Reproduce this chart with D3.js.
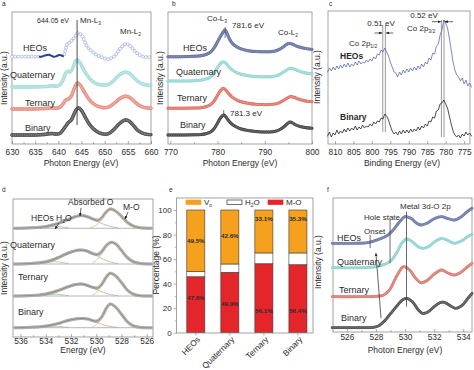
<!DOCTYPE html>
<html>
<head>
<meta charset="utf-8">
<script src="https://cdn.jsdelivr.net/npm/d3@7"></script>
<style>
  body { margin: 0; background: #fff; }
  svg text { font-family: "Liberation Sans", Arial, sans-serif; fill: #2b2b2b; }
</style>
</head>
<body>
<svg id="fig" width="474" height="370"></svg>
<script>
// ---------------- data ----------------
const samples = ['HEOs', 'Quaternary', 'Ternary', 'Binary'];

// a: Mn L-edge XAS  [photon energy (eV), intensity]
const mnHEOsLeft = [[630,0],[632,0],[634,0],[636,0]];
const mnHEOsDark = [[636,0],[636.5,0.3],[637,1],[637.5,1.8],[638,2],[638.5,1],[639,0],[639.5,0.3],[640,1.5],[640.5,1.5],[641,0.5]];
const mnHEOsRight = [[641.3,2.5],[641.9,13.3],[642.5,14],[643,16.7],[643.7,20.7],[644.2,24],[645.1,21.7],[645.7,15],[646.2,10],[646.8,7],[647.3,5],[648,2.5],[648.6,1],[649.1,0],[649.8,-1.5],[650.6,-2.6],[651.3,-1.8],[652,0],[652.6,3],[653.1,6.7],[653.8,10.5],[654.6,13.3],[655.3,12],[656,8.3],[656.7,4.5],[657.5,1.7],[658.3,0],[659.2,-0.5],[660,-0.5]];
const mnQuaternary = [[630,0],[634,0],[636,0.3],[637.5,0.5],[638.5,1.3],[639.5,0.8],[640.3,2],[641,7],[641.6,14],[642.1,15.7],[642.6,15],[643.2,20],[643.8,26.5],[644.1,27],[644.7,24],[645.5,17],[646.4,10.5],[647.4,5.5],[648.4,3],[649.4,2],[650.3,2],[651,3],[652,6.5],[653,11.5],[654,14.3],[654.6,14.7],[655.4,13.5],[656.3,9.5],[657.2,5.5],[658.2,3],[659.2,1.8],[660,1.5]];
const mnTernary = [[630,0],[634,0],[636,0.3],[637.5,0.6],[638.5,1.2],[639.5,0.8],[640.3,1.5],[641,5],[641.6,9],[642.2,10],[642.8,13],[643.4,20],[643.9,25],[644.2,26],[644.8,23.5],[645.6,17],[646.5,10.5],[647.5,5.5],[648.5,2.8],[649.5,1.5],[650.3,1.4],[651,2.3],[652,5.5],[653,9.5],[654,12.2],[654.6,12.7],[655.4,11.5],[656.3,8],[657.2,4.5],[658.2,2],[659.2,1],[660,0.8]];
const mnBinary = [[630,0],[634,0],[636,0.3],[637.5,0.8],[638.5,1.5],[639.5,1],[640.3,1.5],[641,5],[641.6,9],[642.2,12.5],[642.8,15],[643.4,21],[644,26],[644.4,27],[645,24.5],[645.8,18],[646.6,11.5],[647.5,6.5],[648.5,3],[649.5,1.2],[650.3,0.8],[651,1.8],[652,5.5],[653,10.5],[654,14.2],[654.6,15],[655.4,13.5],[656.3,9],[657.2,4.5],[658.2,1.8],[659.2,0.6],[660,0.4]];
const mnOffsets = [87.3, 57, 35, 9];
const mnTicks = [630, 635, 640, 645, 650, 655, 660];
const mnMinor = [632.5, 637.5, 642.5, 647.5, 652.5, 657.5];
const mnL3 = 644.05;

// b: Co L-edge XAS
const coHEOs = [[769.5,0],[772,0],[775,0.4],[776.5,1],[777.5,2.2],[778.5,4.5],[779.3,9],[780,15],[780.7,21],[781.3,25.5],[781.6,26.7],[781.9,24.5],[782.5,18],[783.2,13],[784,10],[785,7.8],[786.5,6],[788,5.2],[789.5,5],[791,5],[792,5.5],[793,7],[794,10],[794.8,12.8],[795.3,13.3],[795.9,12.5],[796.6,10.8],[797.5,9.5],[798.5,8.3],[800,7.3]];
const coQuaternary = [[769.5,0],[772,0],[775,0.3],[776.5,0.8],[777.5,1.8],[778.5,4],[779.3,8],[780,13.5],[780.7,18],[781.2,19.3],[781.7,18],[782.3,14.5],[783,11.5],[784,8.5],[785,6.8],[786.5,5.3],[788,4.5],[789.5,4.2],[791,4.2],[792,4.8],[793,6.2],[794,9],[795,12],[795.5,12.7],[796.2,12],[797,10.3],[798,8.8],[799,7.7],[800,7]];
const coTernary = [[769.5,0],[772,0],[775,0.2],[776.5,0.6],[777.5,1.5],[778.5,3.5],[779.3,7.5],[780,13],[780.7,18],[781.2,20],[781.7,18.5],[782.3,15],[783,11.5],[784,8.5],[785,6.5],[786.5,5],[788,4],[789.5,3.7],[791,3.7],[792,4.2],[793,5.5],[794,8],[795,10.8],[795.5,11.7],[796.2,11],[797,9.5],[798,8],[799,7],[800,6.7]];
const coBinary = [[769.5,0],[772,0],[775,0.2],[776.5,0.5],[777.5,1.2],[778.5,3],[779.3,6.5],[780,12],[780.6,17],[781.1,19.5],[781.3,20],[781.7,18.5],[782.3,14.5],[783,11],[784,8],[785,6],[786.5,4.5],[788,3.5],[789.5,3],[791,3],[792,3.5],[793,5],[794,8],[794.8,11.5],[795.3,13],[795.9,12],[796.6,10],[797.5,8.5],[798.5,7.5],[800,6.7]];
const coOffsets = [87.3, 63, 35.7, 9];
const coTicks = [770, 780, 790, 800];
const coMinor = [775, 785, 795];
const coPeakHEOs = 781.6;
const coPeakBinary = 781.3;

// c: Co 2p XPS (raw counts above each baseline)
const xpsEnergy = [812,811.5,811,810.5,810,809.5,809,808.5,808,807.5,807,806.5,806,805.5,805,804.5,804,803.5,803,802.5,802,801.5,801,800.5,800,799.5,799,798.5,798,797.5,797,796.5,796,795.5,795,794.5,794,793.5,793,792.5,792,791.5,791,790.5,790,789.5,789,788.5,788,787.5,787,786.5,786,785.5,785,784.5,784,783.5,783,782.5,782,781.5,781,780.5,780,779.5,779,778.5,778,777.5,777,776.5,776,775.5,775,774.5,774,773.5,773];
const xpsHEOs = [12,16,13,17,14,18,15,19,16,20,17,21,17,20,18,22,19,23,20,22,21,24,22,25,23,27,25,30,29,34,32,36,32,28,22,17,12,11,7,12,9,14,11,15,12,16,13,17,14,18,15,20,17,22,20,26,24,31,30,38,40,49,54,64,61,56,46,34,22,14,9,7,3,6,0,4,-2,1,-3];
const xpsBinary = [2,6,1,5,3,8,4,7,5,9,6,10,7,10,8,12,8,11,9,13,10,12,11,14,12,16,14,17,16,20,19,24,22,18,12,7,4,6,3,7,4,8,5,8,5,9,6,9,7,11,8,12,10,14,12,17,16,21,20,27,28,34,35,38,34,30,22,14,7,3,1,3,0,4,2,6,3,5,2];
const xpsOffsets = [60, 6];
const xpsTicks = [810, 805, 800, 795, 790, 785, 780, 775];
const co2p12 = [797.05, 796.35];
const co2p32 = [781.15, 780.45];

// d: O 1s XPS fits
const oHEOsEnv = [[536.5,0],[535.5,0.3],[534.5,1],[534,1.8],[533.5,3.3],[533,5],[532.5,7.5],[532,10],[531.5,12.2],[531.2,12.7],[530.8,12],[530.3,9.5],[529.9,8],[529.6,10],[529.3,15],[528.9,19.3],[528.5,17.5],[528,12],[527.5,5.5],[527,2],[526.5,0.5],[525.6,0]];
const oHEOsMO = [[530.5,0.5],[530,3],[529.5,10],[529,17.5],[528.85,18],[528.5,16.5],[528,11],[527.5,5],[527,1.8],[526.5,0.5]];
const oHEOsAbs = [[534,1],[533,4.5],[532,10],[531.3,12.3],[530.5,10.5],[529.8,6],[529,2.3],[528.3,0.5]];
const oHEOsH2O = [[534.5,0.3],[533.8,1.2],[533.3,2],[532.8,1.5],[532.2,0.4]];
const oQuatEnv = [[536.5,0],[535.5,0.3],[534.5,1.2],[534,2.2],[533.5,4],[533,6.5],[532.5,9.5],[532,12],[531.5,13.8],[531.2,14],[530.8,13.2],[530.3,10.5],[529.9,9.5],[529.6,12],[529.2,18.5],[528.8,21.7],[528.4,19.5],[528,13.5],[527.5,6],[527,2],[526.5,0.5],[525.6,0]];
const oQuatMO = [[530.3,1],[530,3.5],[529.5,11],[529,20],[528.8,21],[528.4,19],[528,13],[527.5,5.8],[527,1.8],[526.5,0.4]];
const oQuatAbs = [[534,1.4],[533,5.5],[532,11.5],[531.2,13.8],[530.5,12],[529.8,7],[529,2.5],[528.3,0.5]];
const oQuatH2O = [[534.5,0.4],[533.8,1.5],[533.3,2.3],[532.8,1.7],[532.2,0.4]];
const oTernEnv = [[536.5,0],[535.5,0.3],[534.5,1],[534,2],[533.5,3.5],[533,5.5],[532.5,8],[532,10.3],[531.5,11.7],[531.2,12],[530.8,11],[530.3,8.7],[529.9,8],[529.6,11],[529.2,19],[528.9,22.7],[528.5,20.5],[528,13.5],[527.5,5.5],[527,1.5],[526.5,0.3],[525.6,0]];
const oTernMO = [[530.3,0.8],[530,3],[529.5,12],[529,21.5],[528.9,22],[528.5,20],[528,13],[527.5,5.2],[527,1.4],[526.5,0.3]];
const oTernAbs = [[534,1.2],[533,4.8],[532,9.8],[531.2,11.8],[530.5,10],[529.8,5.5],[529,1.8],[528.3,0.4]];
const oTernH2O = [[534.5,0.3],[533.8,1.2],[533.3,1.8],[532.8,1.3],[532.2,0.3]];
const oBinEnv = [[536.5,0],[535.5,0.3],[534.5,0.9],[534,1.6],[533.5,2.8],[533,4.3],[532.5,6.3],[532,8],[531.5,9],[531.1,9.3],[530.6,8.5],[530.1,6.5],[529.8,7.5],[529.5,12],[529.2,19.5],[528.9,23.7],[528.5,21],[528,13.5],[527.5,5.5],[527,1.5],[526.5,0.3],[525.6,0]];
const oBinMO = [[530.3,1],[530,3],[529.5,11.5],[529,22.5],[528.9,23],[528.5,21],[528,13],[527.5,5.2],[527,1.4],[526.5,0.3]];
const oBinAbs = [[534,1],[533,3.8],[532,7.8],[531.1,9.2],[530.4,7.5],[529.8,4.5],[529,1.5],[528.3,0.3]];
const oBinH2O = [[534.5,0.3],[533.8,1],[533.3,1.5],[532.8,1.1],[532.2,0.3]];
const oOffsets = [108.7, 73, 41, 9.3];
const oTicks = [536, 534, 532, 530, 528, 526];
const oMinor = [535, 533, 531, 529, 527];

// e: oxygen species fractions (%)
const fracMO = [45.6, 49.2, 56.2, 55.4];
const fracH2O = [4.1, 6.8, 8.8, 9.6];
const fracVo = [50.3, 44.0, 35.0, 35.0];
const labelMO = ['47.8%', '49.9%', '56.1%', '56.4%'];
const labelVo = ['49.5%', '42.6%', '33.1%', '35.3%'];
const labelMOAt = [28.5, 24, 18, 18];
const labelVoAt = [75, 79, 93, 93];
const pctTicks = [0, 20, 40, 60, 80, 100];
const pctMinor = [10, 30, 50, 70, 90];

// f: O K-edge XAS
const okHEOs = [[525,0],[526.5,0],[527.3,0.5],[527.8,2],[528.3,4.5],[528.8,8],[529.2,13.5],[529.6,21],[530,26.6],[530.4,25],[530.8,20],[531.1,18.3],[531.5,20],[532,24.5],[532.5,26.6],[532.9,25],[533.4,23.3],[533.9,27],[534.3,32],[534.6,35]];
const okQuaternary = [[525,0],[527,0],[527.8,0.5],[528.3,2],[528.7,4],[529.1,8],[529.5,17],[529.8,25],[530.1,28.7],[530.5,26],[530.9,21],[531.2,19.4],[531.6,21],[532,25.5],[532.5,29.4],[532.9,27.5],[533.4,24.4],[533.9,27],[534.3,31],[534.6,33.4]];
const okTernary = [[525,0],[527,0],[528,0.3],[528.5,1.5],[528.9,6],[529.3,17],[529.6,25],[529.9,30],[530.3,27],[530.7,19],[531.1,14],[531.5,16],[532,22.5],[532.5,26.7],[532.9,24],[533.4,21.7],[533.9,25],[534.3,30],[534.6,33.4]];
const okBinary = [[525,0],[526,0],[527,0],[527.8,0.3],[528.2,2],[528.6,7],[529,14],[529.4,21],[529.8,27.5],[530.1,29.4],[530.5,26],[530.9,18],[531.2,14.4],[531.6,16],[532,21],[532.4,25],[532.7,25.4],[533.1,22],[533.5,19.4],[533.9,22],[534.3,29],[534.6,34.4]];
const okOffsets = [88.7, 64.3, 35.3, 4.3];
const okTicks = [526, 528, 530, 532, 534];
const okMinor = [527, 529, 531, 533];
const okMetal = 530.1, okHole = 528.97, okOnset = 527.6;

// ---------------- drawing ----------------
const svg = d3.select('#fig');

svg.append('defs').append('marker')
  .attr('id', 'arr').attr('viewBox', '0 0 10 10').attr('refX', 9).attr('refY', 5)
  .attr('markerWidth', 5).attr('markerHeight', 5).attr('orient', 'auto-start-reverse')
  .append('path').attr('d', 'M0,1L10,5L0,9z').attr('fill', '#222');

function frame(b) {
  svg.append('rect').attr('x', b.x0).attr('y', b.y0)
    .attr('width', b.x1 - b.x0).attr('height', b.y1 - b.y0)
    .attr('fill', 'none').attr('stroke', '#8d8d8d').attr('stroke-width', 0.8);
}

function energyAxis(b, x, major, minor, pad) {
  if (minor) {
    const gm = svg.append('g').attr('transform', `translate(0,${b.y1})`)
      .call(d3.axisBottom(x).tickValues(minor).tickSize(-1.8).tickFormat(''));
    gm.select('.domain').remove();
    gm.selectAll('line').attr('stroke', '#777').attr('stroke-width', 0.6);
  }
  const g = svg.append('g').attr('transform', `translate(0,${b.y1})`)
    .call(d3.axisBottom(x).tickValues(major).tickSize(-3).tickPadding(pad == null ? 5 : pad).tickFormat(d3.format('d')));
  g.select('.domain').remove();
  g.selectAll('line').attr('stroke', '#777').attr('stroke-width', 0.6);
  g.selectAll('text').attr('font-size', 8.3).attr('fill', '#2b2b2b').attr('font-family', null);
}

// text with optional subscripts: parts = ['Mn-L', {sub: '3'}]
function label(x, y, parts, o = {}) {
  const t = svg.append('text').attr('x', x).attr('y', y)
    .attr('font-size', o.size || 9).attr('text-anchor', o.anchor || 'start')
    .attr('font-weight', o.bold ? 'bold' : null)
    .attr('transform', o.rotate ? `rotate(${o.rotate},${x},${y})` : null);
  if (typeof parts === 'string') parts = [parts];
  let shifted = false;
  parts.forEach(p => {
    if (typeof p === 'string') {
      t.append('tspan').attr('dy', shifted ? -2.2 : null).text(p);
      shifted = false;
    } else {
      t.append('tspan').attr('dy', 2.2).attr('font-size', (o.size || 9) * 0.62).text(p.sub);
      shifted = true;
    }
  });
  return t;
}

function yTitle(x, y, txt) { label(x, y, txt, {size: 8.5, anchor: 'middle', rotate: -90}); }

function spectrum(x, y, pts, off, color, width, curve) {
  const line = d3.line().x(d => x(d[0])).y(d => y(d[1] + off))
    .curve(curve || d3.curveCatmullRom.alpha(0.5));
  return svg.append('path').datum(pts).attr('d', line)
    .attr('fill', 'none').attr('stroke', color).attr('stroke-width', width)
    .attr('stroke-linejoin', 'round').attr('stroke-linecap', 'round');
}

// open-circle markers spaced along a drawn path
function beads(path, color, step, r, fill) {
  const node = path.node(), len = node.getTotalLength();
  const pts = d3.range(0, len, step).map(s => node.getPointAtLength(s));
  svg.append('g').selectAll('circle').data(pts).join('circle')
    .attr('cx', p => p.x).attr('cy', p => p.y).attr('r', r)
    .attr('fill', fill).attr('stroke', color).attr('stroke-width', 0.6);
}

function vline(x, y, e, v0, v1, color, w) {
  svg.append('line').attr('x1', x(e)).attr('x2', x(e)).attr('y1', y(v0)).attr('y2', y(v1))
    .attr('stroke', color || '#444').attr('stroke-width', w || 0.8);
}

function arrow(x1, y1, x2, y2) {
  svg.append('line').attr('x1', x1).attr('y1', y1).attr('x2', x2).attr('y2', y2)
    .attr('stroke', '#222').attr('stroke-width', 0.7).attr('marker-end', 'url(#arr)');
}

function letter(x, y, s) { label(x, y, s, {size: 6.5}); }

// ---- panel a ----
const A = {x0: 12, x1: 151, y0: 12, y1: 144};
const xa = d3.scaleLinear().domain([630, 660]).range([A.x0, A.x1]);
const ya = d3.scaleLinear().domain([0, A.y1 - A.y0]).range([A.y1, A.y0]);
frame(A);
energyAxis(A, xa, mnTicks, mnMinor);
const aColors = ['#8fa0d8', '#9fdbd9', '#e6887a', '#454545'];
[mnQuaternary, mnTernary, mnBinary].forEach((s, i) => {
  const p = spectrum(xa, ya, s, mnOffsets[i + 1], aColors[i + 1], 3.4);
  beads(p, aColors[i + 1], 1.8, 1.3, 'rgba(255,255,255,0.35)');
});
beads(spectrum(xa, ya, mnHEOsLeft, mnOffsets[0], 'none', 1), aColors[0], 3.3, 1.5, '#fff');
beads(spectrum(xa, ya, mnHEOsRight, mnOffsets[0], 'none', 1, d3.curveLinear), aColors[0], 3.3, 1.5, '#fff');
spectrum(xa, ya, mnHEOsDark, mnOffsets[0], '#253f8c', 2);
vline(xa, ya, mnL3, 124, 19, '#3a3a3a', 0.9);
label(69, 23, '644.05 eV', {size: 7, anchor: 'end'});
label(80, 23, ['Mn-L', {sub: '3'}], {size: 8});
label(120, 34, ['Mn-L', {sub: '2'}], {size: 8});
label(23, 51, 'HEOs');
label(10, 78, 'Quaternary');
label(25, 106, 'Ternary');
label(25, 131, 'Binary');
yTitle(6.5, 78, 'Intensity (a.u.)');
label(81, 166, 'Photon Energy (eV)', {size: 8.5, anchor: 'middle'});
letter(2, 6, 'a');

// ---- panel b ----
const B = {x0: 168, x1: 312, y0: 12, y1: 144};
const xb = d3.scaleLinear().domain([769.5, 800]).range([B.x0, B.x1]);
const yb = d3.scaleLinear().domain([0, B.y1 - B.y0]).range([B.y1, B.y0]);
frame(B);
energyAxis(B, xb, coTicks, coMinor);
const bColors = ['#5f6f9f', '#93d6d3', '#e06e60', '#3f3f3f'];
[coHEOs, coQuaternary, coTernary, coBinary].forEach((s, i) => {
  const p = spectrum(xb, yb, s, coOffsets[i], bColors[i], 3);
  beads(p, bColors[i], 1.8, 1.1, 'rgba(255,255,255,0.3)');
});
vline(xb, yb, coPeakHEOs, 117, 106, '#555', 0.8);
vline(xb, yb, coPeakBinary, 34, 27, '#555', 0.8);
label(217, 21, ['Co-L', {sub: '3'}], {size: 8, anchor: 'middle'});
label(232, 28, '781.6 eV', {size: 8});
label(288, 35, ['Co-L', {sub: '2'}], {size: 8, anchor: 'middle'});
label(230, 116, '781.3 eV', {size: 8});
label(183, 51, 'HEOs');
label(176, 75, 'Quaternary');
label(177, 101, 'Ternary');
label(180, 128, 'Binary');
yTitle(163, 78, 'Intensity (a.u.)');
label(240, 166, 'Photon Energy (eV)', {size: 8.5, anchor: 'middle'});
letter(172, 6, 'b');

// ---- panel c ----
const C = {x0: 328, x1: 470, y0: 11, y1: 144};
const xc = d3.scaleLinear().domain([811.9, 773.4]).range([C.x0, C.x1]);
const yc = d3.scaleLinear().domain([0, C.y1 - C.y0]).range([C.y1, C.y0]);
frame(C);
energyAxis(C, xc, xpsTicks, null);
co2p12.forEach(e => vline(xc, yc, e, 119, 12, '#9a9a9a', 1));
co2p32.forEach(e => vline(xc, yc, e, 124, 7, '#9a9a9a', 1));
spectrum(xc, yc, xpsEnergy.map((e, i) => [e, xpsHEOs[i]]), xpsOffsets[0], '#5a6bb6', 0.8, d3.curveLinear);
spectrum(xc, yc, xpsEnergy.map((e, i) => [e, xpsBinary[i]]), xpsOffsets[1], '#222', 0.8, d3.curveLinear);
arrow(xc(799.3), yc(111), xc(797.25), yc(111));
arrow(xc(794.2), yc(111), xc(796.15), yc(111));
arrow(xc(783.7), yc(122.3), xc(781.35), yc(122.3));
arrow(xc(778.0), yc(122.3), xc(780.25), yc(122.3));
label(381, 26, '0.51 eV', {size: 8, anchor: 'middle'});
label(349, 46, ['Co 2p', {sub: '1/2'}], {size: 8});
label(424, 18, '0.52 eV', {size: 8, anchor: 'middle'});
label(407, 31, ['Co 2p', {sub: '3/2'}], {size: 8});
label(340, 59, 'HEOs', {size: 8.5, bold: true});
label(340, 120, 'Binary', {size: 8.5, bold: true});
yTitle(320, 77, 'Intensity (a.u.)');
label(402, 166, 'Binding Energy (eV)', {size: 8.5, anchor: 'middle'});
letter(329, 6, 'c');

// ---- panel d ----
const D = {x0: 13, x1: 153, y0: 199, y1: 337};
const xd = d3.scaleLinear().domain([536.6, 525.5]).range([D.x0, D.x1]);
const yd = d3.scaleLinear().domain([0, D.y1 - D.y0]).range([D.y1, D.y0]);
frame(D);
energyAxis(D, xd, oTicks, oMinor, 1.5);
const oSets = [
  [oHEOsEnv, oHEOsMO, oHEOsAbs, oHEOsH2O],
  [oQuatEnv, oQuatMO, oQuatAbs, oQuatH2O],
  [oTernEnv, oTernMO, oTernAbs, oTernH2O],
  [oBinEnv, oBinMO, oBinAbs, oBinH2O]
];
oSets.forEach((set, i) => {
  const off = oOffsets[i];
  svg.append('line').attr('x1', xd(536.5)).attr('x2', xd(525.6))
    .attr('y1', yd(off)).attr('y2', yd(off)).attr('stroke', '#9a9a9a').attr('stroke-width', 0.7);
  const band = spectrum(xd, yd, set[0], off, '#b4b4b4', 3);
  beads(band, '#a5a5a5', 1.8, 1.1, 'rgba(255,255,255,0.4)');
  spectrum(xd, yd, set[2], off, '#c49a9a', 0.7);
  spectrum(xd, yd, set[3], off, '#8fbf8f', 0.7);
  spectrum(xd, yd, set[1], off, '#d9b86a', 0.7);
  spectrum(xd, yd, set[0], off, '#6d6d6d', 0.6);
});
label(31, 221, 'HEOs', {size: 8.5});
label(56, 221, ['H', {sub: '2'}, 'O'], {size: 8.5});
label(68, 205, 'Absorbed O', {size: 8.5});
label(123, 210, 'M-O', {size: 8.5});
arrow(59, 223, 55, 229);
arrow(81, 208, 80, 216);
arrow(128, 212, 125, 219);
label(10, 248, 'Quaternary');
label(18, 280, 'Ternary');
label(18, 315, 'Binary');
yTitle(6.5, 268, 'Intensity (a.u.)');
label(83, 353, 'Energy (eV)', {size: 8.5, anchor: 'middle'});
letter(2, 192, 'd');

// ---- panel e ----
const E = {x0: 176.5, x1: 313, y0: 198, y1: 333};
const xe = d3.scaleBand().domain(samples).range([E.x0, E.x1]).paddingInner(0.47).paddingOuter(0.24).align(0.63);
const ye = d3.scaleLinear().domain([0, 100]).range([332.7, 210]);
const eTable = samples.map((s, i) => ({name: s, MO: fracMO[i], H2O: fracH2O[i], Vo: fracVo[i]}));
const stacked = d3.stack().keys(['MO', 'H2O', 'Vo'])(eTable);
const eColors = {MO: '#e4262b', H2O: '#ffffff', Vo: '#f6a11d'};
svg.append('g').selectAll('g').data(stacked).join('g')
  .attr('fill', d => eColors[d.key])
  .selectAll('rect').data(d => d).join('rect')
  .attr('x', d => xe(d.data.name)).attr('width', xe.bandwidth())
  .attr('y', d => ye(d[1])).attr('height', d => ye(d[0]) - ye(d[1]))
  .attr('stroke', '#3a3a3a').attr('stroke-width', 0.6);
frame(E);
const eyMinor = svg.append('g').attr('transform', `translate(${E.x0},0)`)
  .call(d3.axisLeft(ye).tickValues(pctMinor).tickSize(1.6).tickFormat(''));
eyMinor.select('.domain').remove();
const ey = svg.append('g').attr('transform', `translate(${E.x0},0)`)
  .call(d3.axisLeft(ye).tickValues(pctTicks).tickSize(2.8).tickPadding(2));
ey.select('.domain').remove();
ey.selectAll('text').attr('font-size', 8).attr('font-family', null).attr('fill', '#2b2b2b');
svg.selectAll('.tick line').attr('stroke', '#777').attr('stroke-width', 0.6);
const ex = svg.append('g').attr('transform', `translate(0,${E.y1})`)
  .call(d3.axisBottom(xe).tickSize(2.5).tickFormat(''));
ex.select('.domain').remove();
ex.selectAll('line').attr('stroke', '#777').attr('stroke-width', 0.6);
samples.forEach((s, i) => {
  const cx = xe(s) + xe.bandwidth() / 2;
  label(cx + 5, 340, s, {size: 8.3, anchor: 'end', rotate: -45});
  label(cx, ye(labelMOAt[i]) + 2.5, labelMO[i], {size: 6.2, anchor: 'middle', bold: true}).attr('fill', '#fff');
  label(cx, ye(labelVoAt[i]) + 2.5, labelVo[i], {size: 6.2, anchor: 'middle', bold: true}).attr('fill', '#5a3a10');
});
// legend
const legendItems = [['Vo', 186, ['V', {sub: 'o'}]], ['H2O', 227, ['H', {sub: '2'}, 'O']], ['MO', 268, 'M-O']];
legendItems.forEach(([k, lx, txt]) => {
  svg.append('rect').attr('x', lx).attr('y', 200).attr('width', 15).attr('height', 4.5)
    .attr('fill', eColors[k]).attr('stroke', k === 'H2O' ? '#333' : eColors[k]).attr('stroke-width', 0.7);
  label(lx + 18, 205, txt, {size: 8});
});
yTitle(159, 265, 'Percentage (%)');
letter(169, 192, 'e');

// ---- panel f ----
const F = {x0: 333, x1: 472, y0: 198, y1: 332};
const xf = d3.scaleLinear().domain([525.05, 534.6]).range([F.x0, F.x1]);
const yf = d3.scaleLinear().domain([0, F.y1 - F.y0]).range([F.y1, F.y0]);
frame(F);
energyAxis(F, xf, okTicks, okMinor, 2);
const fColors = ['#6b7aa8', '#8ed4d1', '#d97b6e', '#505050'];
[okHEOs, okQuaternary, okTernary, okBinary].forEach((s, i) => {
  const p = spectrum(xf, yf, s, okOffsets[i], fColors[i], 2.8);
  beads(p, fColors[i], 1.8, 1, 'rgba(255,255,255,0.25)');
});
vline(xf, yf, okMetal, 120.3, 25.3, '#444', 0.8);
vline(xf, yf, okHole, 112, 68.7, '#444', 0.8);
vline(xf, yf, okOnset, 97, 84, '#444', 0.8);
arrow(xf(528.35), yf(13.7), xf(528.0), yf(78.7));
label(400, 209, 'Metal 3d-O 2p', {size: 8});
label(364, 220, 'Hole state', {size: 8});
label(364, 234, 'Onset', {size: 8});
label(337, 241, 'HEOs');
label(337, 265, 'Quaternary');
label(339, 293, 'Ternary');
label(341, 321, 'Binary');
yTitle(321, 262, 'Intensity (a.u.)');
label(405, 353, 'Photon Energy (eV)', {size: 8.5, anchor: 'middle'});
letter(327, 192, 'f');
</script>
</body>
</html>
